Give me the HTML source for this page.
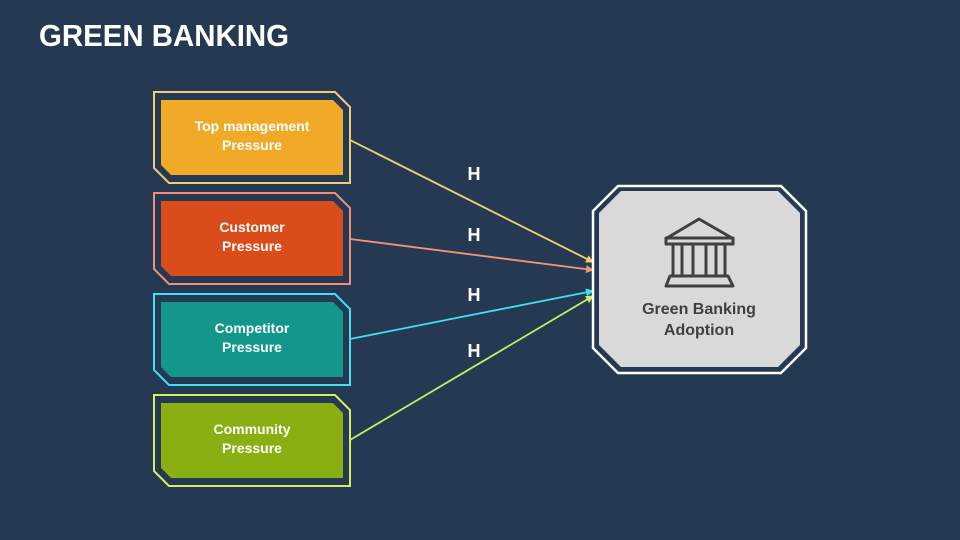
<!DOCTYPE html><html><head><style>body{margin:0;background:#253a52;}svg{display:block}</style></head><body>
<svg width="960" height="540" viewBox="0 0 960 540" xmlns="http://www.w3.org/2000/svg" font-family="'Liberation Sans',sans-serif">
<rect width="960" height="540" fill="#253a52"/>
<text x="39" y="46" fill="#fff" font-size="31" font-weight="bold" textLength="250" lengthAdjust="spacingAndGlyphs">GREEN BANKING</text>
<defs>
<marker id="m1" markerWidth="8" markerHeight="8" refX="7" refY="4" orient="auto" markerUnits="userSpaceOnUse"><path d="M0,0 L8,4 L0,8z" fill="#f5d070"/></marker>
<marker id="m2" markerWidth="8" markerHeight="8" refX="7" refY="4" orient="auto" markerUnits="userSpaceOnUse"><path d="M0,0 L8,4 L0,8z" fill="#f0957a"/></marker>
<marker id="m3" markerWidth="8" markerHeight="8" refX="7" refY="4" orient="auto" markerUnits="userSpaceOnUse"><path d="M0,0 L8,4 L0,8z" fill="#40e0f0"/></marker>
<marker id="m4" markerWidth="8" markerHeight="8" refX="7" refY="4" orient="auto" markerUnits="userSpaceOnUse"><path d="M0,0 L8,4 L0,8z" fill="#c8f060"/></marker>
</defs>
<g stroke-width="2" fill="none">
<polygon points="154,92 335,92 350,107 350,183 169,183 154,168" stroke="#f5c97a"/>
<polygon points="154,193 335,193 350,208 350,284 169,284 154,269" stroke="#f0907a"/>
<polygon points="154,294 335,294 350,309 350,385 169,385 154,370" stroke="#40e0f0"/>
<polygon points="154,395 335,395 350,410 350,486 169,486 154,471" stroke="#d4f060"/>
</g>
<g>
<polygon points="161,100 333,100 343,110 343,175 171,175 161,165" fill="#f0aa28"/>
<polygon points="161,201 333,201 343,211 343,276 171,276 161,266" fill="#da4c1a"/>
<polygon points="161,302 333,302 343,312 343,377 171,377 161,367" fill="#13978a"/>
<polygon points="161,403 333,403 343,413 343,478 171,478 161,468" fill="#8aaf12"/>
</g>
<g fill="#fff" font-size="14" font-weight="bold" text-anchor="middle">
<text x="252" y="131">Top management</text><text x="252" y="150">Pressure</text>
<text x="252" y="232">Customer</text><text x="252" y="251">Pressure</text>
<text x="252" y="333">Competitor</text><text x="252" y="352">Pressure</text>
<text x="252" y="434">Community</text><text x="252" y="453">Pressure</text>
</g>
<g stroke-width="1.8">
<line x1="350" y1="140" x2="593" y2="262" stroke="#f5d070" marker-end="url(#m1)"/>
<line x1="350" y1="239" x2="593" y2="270" stroke="#f0957a" marker-end="url(#m2)"/>
<line x1="350" y1="339" x2="593" y2="291" stroke="#40e0f0" marker-end="url(#m3)"/>
<line x1="350" y1="440" x2="593" y2="296" stroke="#c8f060" marker-end="url(#m4)"/>
</g>
<g fill="#fff" font-size="18" font-weight="bold" text-anchor="middle">
<text x="474" y="180">H</text><text x="474" y="241">H</text><text x="474" y="301">H</text><text x="474" y="357">H</text>
</g>
<polygon points="618,186 781,186 806,211 806,348 781,373 618,373 593,348 593,211" fill="none" stroke="#fff" stroke-width="2.5"/>
<polygon points="621,191 778,191 800,213 800,345 778,367 621,367 599,345 599,213" fill="#d9d9d9"/>
<g fill="none" stroke="#404040" stroke-width="3" stroke-linejoin="round">
<polygon points="699,219 667,238 732,238"/>
<rect x="666" y="238" width="67" height="6"/>
<line x1="673" y1="244" x2="673" y2="276"/><line x1="682" y1="244" x2="682" y2="276"/>
<line x1="693" y1="244" x2="693" y2="276"/><line x1="706" y1="244" x2="706" y2="276"/>
<line x1="716" y1="244" x2="716" y2="276"/><line x1="725" y1="244" x2="725" y2="276"/>
<polygon points="670,276 728,276 733,286 666,286"/>
</g>
<g fill="#404040" font-size="16" font-weight="bold" text-anchor="middle">
<text x="699" y="314">Green Banking</text><text x="699" y="335">Adoption</text>
</g>
</svg></body></html>
